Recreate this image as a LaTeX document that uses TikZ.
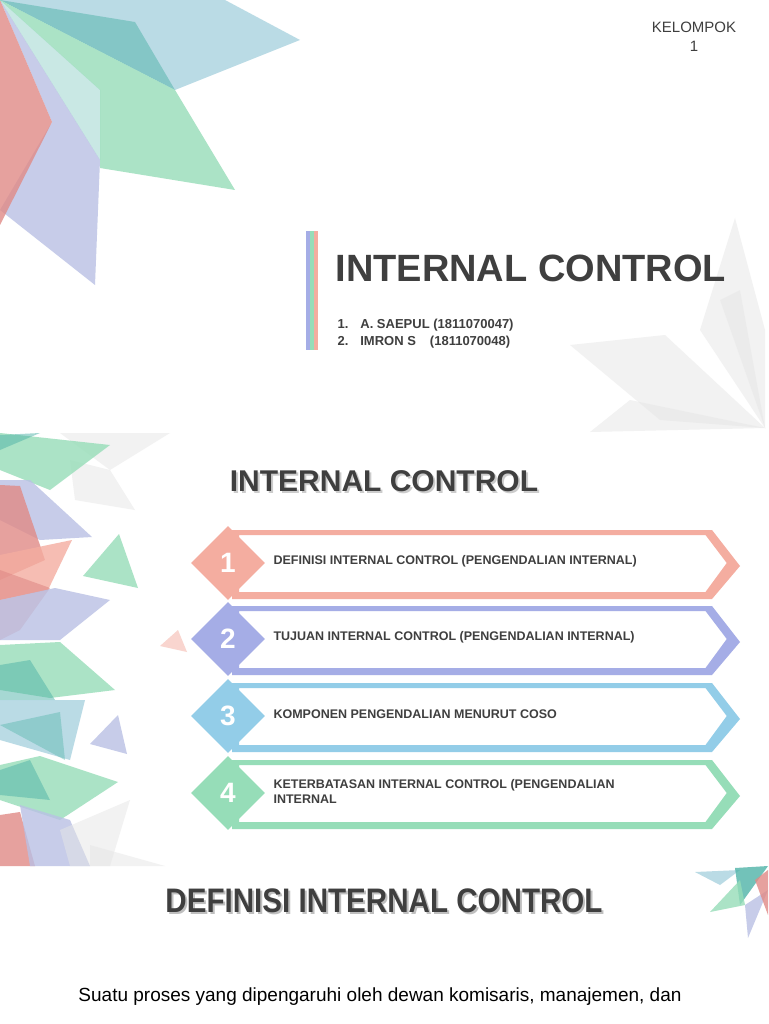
\documentclass[tikz,border=0pt]{standalone}
\usepackage{fontspec}
\setmainfont{Liberation Sans}
\begin{document}
\begin{tikzpicture}[x=1pt,y=-1pt]
\definecolor{salm}{HTML}{F4ADA0}
\definecolor{peri}{HTML}{A5ADE6}
\definecolor{sky}{HTML}{93CDE8}
\definecolor{mint}{HTML}{96DDB8}
\definecolor{txt}{HTML}{3F3F3F}
\definecolor{lblue}{HTML}{A9D2DF}
\definecolor{teal}{HTML}{4FB3A8}
\definecolor{lav}{HTML}{B9C0E4}
\definecolor{rose}{HTML}{E08A86}
\definecolor{lgray}{HTML}{E6E6E6}
\tikzset{deco/.style={fill=#1,fill opacity=0.8,draw=none},
 gdeco/.style={fill=lgray,fill opacity=0.5,draw=none},
 numbox/.style={draw=none,fill=#1,shape=rectangle,rotate=45,minimum size=52pt},
 ttl/.style={font=\bfseries\fontsize{30}{32}\selectfont,text=txt},
 ttlb/.style={font=\bfseries\fontsize{34}{36}\selectfont,text=txt},
 itm/.style={font=\bfseries\fontsize{12.5}{15}\selectfont,text=txt,anchor=west,align=left}}
\useasboundingbox (0,0) rectangle (768,1024);
\fill[white] (0,0) rectangle (768,1024);
% ---- slide 1 decorations
\fill[deco=lav] (0,0) -- (52,122) -- (0,210) -- (95,285) -- (100,160) -- cycle;
\fill[deco=rose] (0,0) -- (52,122) -- (0,225) -- cycle;
\fill[deco=lblue] (0,0) -- (225,0) -- (300,40) -- (175,90) -- cycle;
\fill[deco=teal,fill opacity=0.5] (0,0) -- (135,22) -- (175,90) -- cycle;
\fill[deco=mint] (0,0) -- (175,90) -- (235,190) -- (100,168) -- (100,90) -- cycle;
\fill[deco=teal,fill opacity=0.3] (0,0) -- (100,90) -- (100,160) -- cycle;
% right gray
\fill[gdeco] (735,218) -- (765,330) -- (765,428) -- (700,330) -- cycle;
\fill[gdeco] (570,345) -- (665,335) -- (765,428) -- (660,420) -- cycle;
\fill[gdeco] (590,432) -- (630,400) -- (765,428) -- cycle;
\fill[gdeco] (720,300) -- (740,290) -- (765,428) -- cycle;
% bar
\fill[peri] (306,231) rectangle (310,350);
\fill[mint] (310,231) rectangle (314,350);
\fill[salm] (314,231) rectangle (318,350);
\node[font=\bfseries\fontsize{38}{40}\selectfont,text=txt,anchor=west] (t1) at (332,268) {INTERNAL CONTROL};
\node[font=\bfseries\fontsize{13}{17}\selectfont,text=txt,anchor=west,align=left] (names) at (334,334)
 {1.\hspace{12pt}A. SAEPUL (1811070047)\\2.\hspace{12pt}IMRON S\hspace{14pt}(1811070048)};
\node[font=\fontsize{15}{19}\selectfont,text=txt,align=center] (kel) at (694,37) {KELOMPOK\\1};
% ---- slide 2 decorations
\fill[gdeco] (60,433) -- (170,433) -- (110,470) -- cycle;
\fill[gdeco] (70,460) -- (110,470) -- (135,510) -- (75,500) -- cycle;
\fill[deco=mint] (0,433) -- (110,445) -- (50,490) -- (0,470) -- cycle;
\fill[deco=teal,fill opacity=0.5] (0,435) -- (40,433) -- (0,450) -- cycle;
\fill[deco=lav] (0,480) -- (30,480) -- (92,537) -- (40,540) -- (0,520) -- cycle;
\fill[deco=rose] (0,485) -- (20,486) -- (45,560) -- (0,580) -- cycle;
\fill[deco=salm] (0,555) -- (72,540) -- (48,590) -- (0,600) -- cycle;
\fill[deco=rose,fill opacity=0.6] (0,570) -- (50,588) -- (20,630) -- (0,640) -- cycle;
\fill[deco=lav] (0,600) -- (55,588) -- (110,600) -- (60,640) -- (0,640) -- cycle;
\fill[deco=mint] (0,645) -- (60,642) -- (115,690) -- (50,698) -- (0,690) -- cycle;
\fill[deco=teal,fill opacity=0.5] (0,665) -- (30,660) -- (55,700) -- (0,700) -- cycle;
\fill[deco=lblue] (0,700) -- (85,700) -- (70,760) -- (0,740) -- cycle;
\fill[deco=teal,fill opacity=0.4] (0,725) -- (60,712) -- (65,760) -- cycle;
\fill[deco=mint] (0,765) -- (40,756) -- (118,782) -- (60,820) -- (0,800) -- cycle;
\fill[deco=teal,fill opacity=0.5] (0,770) -- (30,760) -- (50,800) -- (0,795) -- cycle;
\fill[deco=rose] (0,815) -- (20,812) -- (35,866) -- (0,866) -- cycle;
\fill[deco=lav] (20,805) -- (70,820) -- (90,866) -- (30,866) -- cycle;
\fill[gdeco] (60,830) -- (130,800) -- (110,866) -- (70,866) -- cycle;
\fill[gdeco] (90,845) -- (165,866) -- (90,866) -- cycle;
\fill[deco=mint] (83,576) -- (119,534) -- (138,588) -- cycle;
\fill[deco=salm,fill opacity=0.5] (160,646) -- (178,630) -- (187,652) -- cycle;
\fill[deco=lav] (90,744) -- (118,715) -- (127,754) -- cycle;
% ---- slide 2 content
\node[ttl,text=black!20] at (386,483) {INTERNAL CONTROL};
\node[ttl] (t2) at (384,481) {INTERNAL CONTROL};
\foreach \y/\c/\n/\lab in {563/salm/1/{DEFINISI INTERNAL CONTROL (PENGENDALIAN INTERNAL)},
  639/peri/2/{TUJUAN INTERNAL CONTROL (PENGENDALIAN INTERNAL)},
  716/sky/3/{KOMPONEN PENGENDALIAN MENURUT COSO},
  793/mint/4/{KETERBATASAN INTERNAL CONTROL (PENGENDALIAN\\INTERNAL}}{
  \fill[\c] (232,\y-33) -- (712,\y-33) -- (740,\y+3) -- (712,\y+36) -- (232,\y+36) -- cycle;
  \filldraw[fill=white,draw=\c,line width=2pt] (238,\y-29) -- (706,\y-29) -- (728,\y) -- (706,\y+30) -- (238,\y+30) -- cycle;
  \node[numbox=\c] (d\n) at (228,\y) {};
  \node[font=\bfseries\fontsize{28}{30}\selectfont,text=white] (n\n) at (d\n) {\n};
  \node[itm] (l\n) at (270,\y-2) {\lab};
}
% ---- slide 3
\fill[deco=lblue] (695,872) -- (740,870) -- (720,885) -- cycle;
\fill[deco=teal] (735,868) -- (768,866) -- (740,905) -- cycle;
\fill[deco=mint] (710,912) -- (740,880) -- (745,905) -- cycle;
\fill[deco=lav] (745,905) -- (768,890) -- (748,938) -- cycle;
\fill[deco=rose] (755,880) -- (768,870) -- (768,915) -- cycle;
\node[ttlb,text=black!25] at (386,903) {\addfontfeature{FakeStretch=0.87}DEFINISI INTERNAL CONTROL};
\node[ttlb] (t3) at (384,901) {\addfontfeature{FakeStretch=0.87}DEFINISI INTERNAL CONTROL};
\node[font=\fontsize{19}{22}\selectfont,text=black] (p) at (380,997) {Suatu proses yang dipengaruhi oleh dewan komisaris, manajemen, dan};
\end{tikzpicture}
\end{document}
